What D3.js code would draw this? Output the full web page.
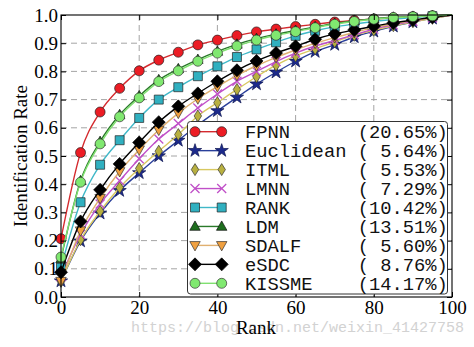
<!DOCTYPE html>
<html>
<head>
<meta charset="utf-8">
<script src="https://cdn.jsdelivr.net/npm/d3@7"></script>
<style>
  html, body { margin: 0; padding: 0; background: #fff; }
  svg { display: block; }
</style>
</head>
<body>
<svg id="chart" width="474" height="347"></svg>
<script>
// ---- data ----
const ranks = [0, 5, 10, 15, 20, 25, 30, 35, 40, 45, 50, 55, 60, 65, 70, 75, 80, 85, 90, 95, 100];
const fpnn      = [0.2065, 0.512, 0.656, 0.740, 0.802, 0.840, 0.868, 0.894, 0.911, 0.927, 0.940, 0.950, 0.959, 0.967, 0.975, 0.981, 0.986, 0.990, 0.994, 0.997, 1.0];
const euclidean = [0.0564, 0.198, 0.297, 0.377, 0.440, 0.500, 0.555, 0.610, 0.660, 0.708, 0.755, 0.797, 0.836, 0.870, 0.895, 0.922, 0.942, 0.960, 0.975, 0.988, 1.0];
const itml      = [0.0553, 0.203, 0.304, 0.388, 0.456, 0.517, 0.576, 0.642, 0.689, 0.736, 0.781, 0.822, 0.855, 0.880, 0.905, 0.928, 0.946, 0.962, 0.976, 0.988, 1.0];
const lmnn      = [0.0729, 0.222, 0.330, 0.412, 0.490, 0.560, 0.615, 0.670, 0.720, 0.765, 0.800, 0.835, 0.865, 0.890, 0.910, 0.930, 0.950, 0.965, 0.978, 0.990, 1.0];
const rankM     = [0.1042, 0.336, 0.469, 0.556, 0.635, 0.700, 0.744, 0.783, 0.818, 0.851, 0.878, 0.903, 0.926, 0.944, 0.958, 0.968, 0.977, 0.985, 0.991, 0.996, 1.0];
const ldm       = [0.1351, 0.412, 0.551, 0.646, 0.713, 0.770, 0.809, 0.842, 0.871, 0.896, 0.916, 0.932, 0.945, 0.958, 0.970, 0.979, 0.987, 0.992, 0.995, 0.998, 1.0];
const sdalf     = [0.0560, 0.235, 0.350, 0.445, 0.522, 0.592, 0.652, 0.703, 0.746, 0.786, 0.820, 0.850, 0.876, 0.900, 0.920, 0.938, 0.955, 0.968, 0.980, 0.990, 1.0];
const esdc      = [0.0876, 0.268, 0.380, 0.472, 0.548, 0.620, 0.676, 0.722, 0.765, 0.804, 0.837, 0.865, 0.889, 0.914, 0.933, 0.947, 0.960, 0.972, 0.982, 0.992, 1.0];
const kissme    = [0.1417, 0.407, 0.543, 0.639, 0.706, 0.764, 0.802, 0.836, 0.865, 0.890, 0.911, 0.928, 0.941, 0.955, 0.967, 0.977, 0.985, 0.991, 0.994, 0.997, 1.0];

const names  = ["FPNN", "Euclidean", "ITML", "LMNN", "RANK", "LDM", "SDALF", "eSDC", "KISSME"];
const rank1  = ["20.65%", "5.64%", "5.53%", "7.29%", "10.42%", "13.51%", "5.60%", "8.76%", "14.17%"];
const values = [fpnn, euclidean, itml, lmnn, rankM, ldm, sdalf, esdc, kissme];
const xTicks = [0, 20, 40, 60, 80, 100];
const yTicks = [0, 0.1, 0.2, 0.3, 0.4, 0.5, 0.6, 0.7, 0.8, 0.9, 1.0];

// ---- styles ----
const styles = [
  { line: "#d42a2e", fill: "#ec1c24", stroke: "#222", shape: "circle", size: 5 },
  { line: "#2a3f9a", fill: "#1c2a8c", stroke: "#0c1450", shape: "star", size: 5 },
  { line: "#d8c860", fill: "#b8b040", stroke: "#333", shape: "thindiamond", size: 6 },
  { line: "#c050c8", fill: "none", stroke: "#c050c8", shape: "x", size: 4.5 },
  { line: "#40b8c8", fill: "#30b0c0", stroke: "#222", shape: "square", size: 4.5 },
  { line: "#2a7a2a", fill: "#1e6e1e", stroke: "#111", shape: "triangle", size: 5.5 },
  { line: "#e0b070", fill: "#f0a040", stroke: "#333", shape: "tridown", size: 5.5 },
  { line: "#000000", fill: "#000000", stroke: "#000", shape: "diamond", size: 6.5 },
  { line: "#80e070", fill: "#80e870", stroke: "#333", shape: "circle", size: 5 }
];

function markerPath(shape, r) {
  switch (shape) {
    case "circle": return d3.symbol(d3.symbolCircle, Math.PI * r * r)();
    case "square": return `M${-r},${-r}H${r}V${r}H${-r}Z`;
    case "diamond": return `M0,${-r}L${r},0L0,${r}L${-r},0Z`;
    case "thindiamond": return `M0,${-r}L${r * 0.62},0L0,${r}L${-r * 0.62},0Z`;
    case "triangle": return `M0,${-r}L${r * 0.95},${r * 0.7}L${-r * 0.95},${r * 0.7}Z`;
    case "tridown": return `M0,${r}L${r * 0.95},${-r * 0.7}L${-r * 0.95},${-r * 0.7}Z`;
    case "star": return d3.symbol(d3.symbolStar, r * r * 2.2)();
    case "x": return `M${-r},${-r}L${r},${r}M${-r},${r}L${r},${-r}`;
  }
}

// ---- layout ----
const L = 61, R = 452, T = 15, B = 297;
const svg = d3.select("#chart");
const x = d3.scaleLinear().domain([0, 100]).range([L, R]);
const y = d3.scaleLinear().domain([0, 1]).range([B, T]);

// grid
const grid = svg.append("g");
grid.selectAll("line.gx").data(xTicks.slice(1, -1)).join("line")
  .attr("x1", d => x(d)).attr("x2", d => x(d)).attr("y1", T).attr("y2", B)
  .attr("stroke", "#9a9a9a").attr("stroke-width", 0.9).attr("stroke-dasharray", "6,4");
grid.selectAll("line.gy").data(yTicks.slice(1, -1)).join("line")
  .attr("x1", L).attr("x2", R).attr("y1", d => y(d)).attr("y2", d => y(d))
  .attr("stroke", "#9a9a9a").attr("stroke-width", 0.9).attr("stroke-dasharray", "6,4");

// watermark
svg.append("text").attr("x", 131).attr("y", 332)
  .attr("font-family", "Liberation Mono, monospace").attr("font-size", 15)
  .attr("fill", "#d2d2d2").text("https://blog.csdn.net/weixin_41427758");

// series
const lineGen = d3.line().x((d, i) => x(ranks[i])).y(d => y(d)).curve(d3.curveMonotoneX);
values.forEach((vals, si) => {
  const st = styles[si];
  const g = svg.append("g");
  g.append("path").attr("d", lineGen(vals)).attr("fill", "none")
    .attr("stroke", st.line).attr("stroke-width", 1.4);
  const pts = vals.slice(0, -1);
  g.selectAll("path.m").data(pts).join("path")
    .attr("transform", (d, i) => `translate(${x(ranks[i])},${y(d)})`)
    .attr("d", markerPath(st.shape, st.size))
    .attr("fill", st.fill).attr("stroke", st.stroke)
    .attr("stroke-width", st.shape === "x" ? 1.3 : 0.7);
});

// frame
svg.append("rect").attr("x", L).attr("y", T).attr("width", R - L).attr("height", B - T)
  .attr("fill", "none").attr("stroke", "#000").attr("stroke-width", 1.1);

// axes (inward ticks)
const tickFont = "Liberation Serif, Times New Roman, serif";
const ax = svg.append("g").attr("transform", `translate(0,${B})`)
  .call(d3.axisBottom(x).tickValues(xTicks).tickSize(-5).tickPadding(3).tickFormat(d3.format("d")));
const ay = svg.append("g").attr("transform", `translate(${L},0)`)
  .call(d3.axisLeft(y).tickValues(yTicks).tickSize(-5).tickPadding(3).tickFormat(d3.format(".1f")));
const axT = svg.append("g").attr("transform", `translate(0,${T})`)
  .call(d3.axisTop(x).tickValues(xTicks).tickSize(-5).tickFormat(""));
const ayR = svg.append("g").attr("transform", `translate(${R},0)`)
  .call(d3.axisRight(y).tickValues(yTicks).tickSize(-5).tickFormat(""));
[ax, ay, axT, ayR].forEach(a => {
  a.select(".domain").remove();
  a.selectAll("text").attr("font-family", tickFont).attr("font-size", 19).attr("fill", "#000");
  a.selectAll("line").attr("stroke", "#000");
});

// axis labels
svg.append("text").attr("x", 256).attr("y", 334).attr("text-anchor", "middle")
  .attr("font-family", tickFont).attr("font-size", 19).text("Rank");
svg.append("text").attr("transform", "translate(27,156) rotate(-90)").attr("text-anchor", "middle")
  .attr("font-family", tickFont).attr("font-size", 19).text("Identification Rate");

// legend
const lg = svg.append("g");
lg.append("rect").attr("x", 187.5).attr("y", 121.5).attr("width", 260).attr("height", 172.5)
  .attr("rx", 3).attr("fill", "#fff").attr("stroke", "#333").attr("stroke-width", 1);
names.forEach((n, i) => {
  const st = styles[i];
  const cy = 131.7 + i * 18.95;
  lg.append("line").attr("x1", 195).attr("x2", 221.7).attr("y1", cy).attr("y2", cy)
    .attr("stroke", st.line).attr("stroke-width", 1.4);
  [195, 221.7].forEach(cx => {
    lg.append("path").attr("transform", `translate(${cx},${cy})`)
      .attr("d", markerPath(st.shape, st.size))
      .attr("fill", st.fill).attr("stroke", st.stroke)
      .attr("stroke-width", st.shape === "x" ? 1.3 : 0.7);
  });
  const pct = rank1[i].length < 6 ? " " + rank1[i] : rank1[i];
  const label = n.padEnd(10, " ") + "(" + pct + ")";
  lg.append("text").attr("x", 245).attr("y", cy).attr("dy", "0.35em")
    .attr("font-family", "Liberation Mono, Courier New, monospace").attr("font-size", 18.8)
    .attr("fill", "#111").style("white-space", "pre").attr("xml:space", "preserve")
    .text(label);
});
</script>
</body>
</html>
